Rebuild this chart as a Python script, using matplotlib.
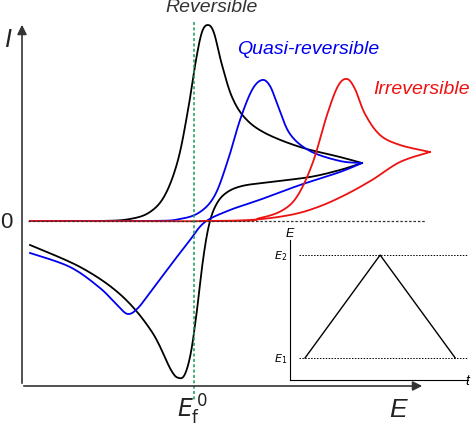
import matplotlib
matplotlib.use("Agg")
import matplotlib.pyplot as plt
import numpy as np

plt.rcParams['font.family'] = ['Liberation Sans', 'DejaVu Sans']

# curve points (x, y) in picture coordinates (y grows downward)
black_fwd = [(30,221),(100,221),(130,219),(150,212),(165,195),(178,160),(188,110),(196,60),(202,32),(208,25),(214,33),(222,65),(232,97),(245,118),(265,133),(300,147),(340,157),(362,163)]
black_rev = [(362,163),(340,170),(310,177),(270,182),(242,186),(226,193),(216,205),(209,225),(203,260),(197,310),(191,352),(185,374),(179,378),(171,370),(152,332),(122,296),(82,268),(30,245)]
blue_fwd = [(30,221),(150,221),(180,219),(200,212),(215,195),(228,160),(240,120),(252,90),(262,80),(270,86),(278,106),(290,134),(310,151),(340,161),(362,163)]
blue_rev = [(362,163),(340,172),(300,185),(262,199),(230,210),(205,222),(190,240),(170,266),(152,290),(138,308),(128,314),(118,306),(100,288),(70,267),(30,253)]
red_fwd = [(30,221),(230,221),(260,218),(283,210),(298,195),(313,162),(327,115),(338,86),(347,79),(355,89),(365,114),(380,135),(400,145),(430,152)]
red_rev = [(430,152),(400,162),(372,180),(345,195),(318,207),(290,215),(250,220),(200,221)]
inset_t = [0, 1, 2]
inset_E = [1, 2, 1]

def catmull(pts, n=20):
    p = np.array(pts, float)
    p = np.vstack([p[0], p, p[-1]])
    out = []
    for i in range(1, len(p) - 2):
        p0, p1, p2, p3 = p[i-1], p[i], p[i+1], p[i+2]
        t = np.linspace(0, 1, n, endpoint=False)[:, None]
        out.append(0.5*((2*p1) + (-p0+p2)*t + (2*p0-5*p1+4*p2-p3)*t**2 + (-p0+3*p1-3*p2+p3)*t**3))
    out.append(p[-2][None])
    return np.vstack(out)

fig = plt.figure(figsize=(4.74, 4.26), dpi=100)
ax = fig.add_axes([0, 0, 1, 1])
ax.set_xlim(0, 474); ax.set_ylim(426, 0); ax.axis('off')

for pts, c in [(black_fwd,'black'),(black_rev,'black'),(blue_fwd,'#0000ee'),(blue_rev,'#0000ee'),(red_fwd,'#ee1111'),(red_rev,'#ee1111')]:
    s = catmull(pts)
    ax.plot(s[:,0], s[:,1], color=c, lw=1.3)

# axes
ax.annotate('', xy=(22, 22), xytext=(22, 386), arrowprops=dict(arrowstyle='-|>', color='#333', lw=1.2, mutation_scale=14))
ax.annotate('', xy=(425, 386), xytext=(21, 386), arrowprops=dict(arrowstyle='-|>', color='#333', lw=1.2, mutation_scale=14))
ax.plot([28, 425], [221, 221], color='#333', lw=0.9, ls=(0, (2, 1.5)))
ax.plot([194, 194], [22, 400], color='#1a9a5a', lw=1.1, ls=(0, (2, 1.5)))

ax.text(8, 40, 'I', fontsize=18, style='italic', ha='center', va='center', color='#222')
ax.text(0, 222, '0', fontsize=16, ha='left', va='center', color='#222')
ax.text(192, 410, r'$E_\mathrm{f}^{\,0}$', fontsize=17, ha='center', va='center', color='#222')
ax.text(398, 410, 'E', fontsize=19, style='italic', ha='center', va='center', color='#222')
ax.text(212, 8, 'Reversible', fontsize=14, style='italic', ha='center', va='center', color='#333')
ax.text(308, 50, 'Quasi-reversible', fontsize=14, style='italic', ha='center', va='center', color='#0000ee')
ax.text(422, 90, 'Irreversible', fontsize=14, style='italic', ha='center', va='center', color='#ee1111')

# inset
ia = fig.add_axes([290/474, 1-380/426, 178/474, 140/426])
ia.set_xlim(-0.2, 2.17); ia.set_ylim(0.786, 2.146)
ia.plot(inset_t, inset_E, color='black', lw=1.0)
ia.axhline(2, xmin=0.05, color='black', lw=0.7, ls=(0, (1.5, 1.5)))
ia.axhline(1, xmin=0.05, color='black', lw=0.7, ls=(0, (1.5, 1.5)))
for s in ['top', 'right']: ia.spines[s].set_visible(False)
ia.set_xticks([]); ia.set_yticks([])
ia.patch.set_alpha(0)
fig.text(286/474, 1-234/426, 'E', fontsize=9, style='italic', ha='left', va='center')
fig.text(274/474, 1-256/426, r'$E_2$', fontsize=8, ha='left', va='center')
fig.text(274/474, 1-359/426, r'$E_1$', fontsize=8, ha='left', va='center')
fig.text(467/474, 1-381/426, 't', fontsize=10, style='italic', ha='center', va='center')

fig.savefig('out.png', dpi=100)
